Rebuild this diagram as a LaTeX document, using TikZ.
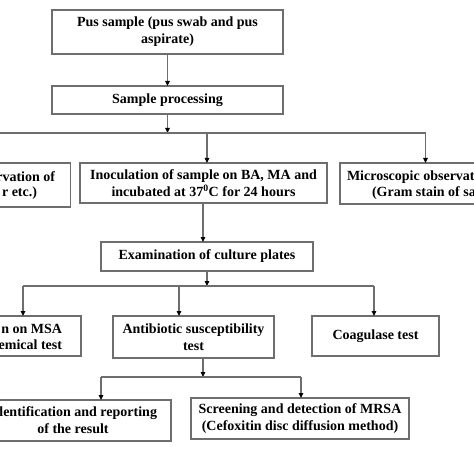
\documentclass[tikz,border=0pt]{standalone}
\usepackage{fontspec}
\setmainfont{Liberation Serif}
\usetikzlibrary{arrows.meta}
\definecolor{linegray}{HTML}{6E6E6E}
\tikzset{
  box/.style={draw=linegray, line width=1.1bp, rectangle, inner sep=0pt, outer sep=0pt,
    align=center, font=\fontsize{14bp}{17bp}\selectfont\bfseries},
  frag/.style={inner sep=0pt, outer sep=0pt, font=\fontsize{14bp}{17bp}\selectfont\bfseries},
  conn/.style={draw=linegray, line width=1.1bp},
  arr/.style={conn, -{Triangle[length=5bp,width=4.5bp,color=black]}}
}
\begin{document}
\begin{tikzpicture}[x=1bp,y=-1bp]
\useasboundingbox (0,0) rectangle (474,474);
\clip (0,0) rectangle (474,474);
\fill[white] (0,0) rectangle (474,474);

% top boxes
\node[box, minimum width=231bp, minimum height=44bp] (pus) at (167.5,32)
  {Pus sample (pus swab and pus\\aspirate)};
\node[box, minimum width=231bp, minimum height=28bp] (proc) at (167.5,100)
  {Sample processing};
\draw[arr] (pus.south) -- (proc.north);

% first branch
\coordinate (b1) at (167.5,133);
\coordinate (hl) at (-20,133);
\coordinate (j1) at (207,133);
\coordinate (hr) at (425.5,133);
\draw[arr] (proc.south) -- (b1);
\draw[conn] (hl) -- (hr);

% second row
\node[box, minimum width=170bp, minimum height=44bp] (macro) at (-14.5,185) {};
\node[frag, anchor=east] (macro1) at (55,177) {rvation of};
\node[frag, anchor=east] (macro2) at (37,193) {r etc.)};

\node[box, minimum width=247bp, minimum height=40bp] (inoc) at (203.5,183)
  {Inoculation of sample on BA, MA and\\incubated at 37\textsuperscript{0}C for 24 hours};

\node[box, minimum width=220bp, minimum height=41bp] (micro) at (450,183.5) {};
\node[frag, anchor=west] (micro1) at (347,177) {Microscopic observat};
\node[frag, anchor=west] (micro2) at (372,193) {(Gram stain of sa};

\draw[arr] (j1) -- (j1 |- inoc.north);
\draw[arr] (hr) -- (hr |- micro.north);

% examination
\coordinate (e0) at (203,203);
\node[box, minimum width=212bp, minimum height=29bp] (exam) at (207,256.5)
  {Examination of culture plates};
\draw[arr] (e0) -- (e0 |- exam.north);

% second branch
\coordinate (b2) at (207,286);
\coordinate (l2) at (23,286);
\coordinate (m2) at (179,286);
\coordinate (r2) at (374,286);
\draw[arr] (exam.south) -- (b2);
\draw[conn] (l2) -- (r2);

\node[box, minimum width=181bp, minimum height=40bp] (msa) at (-9.5,336) {};
\node[frag, anchor=east] (msa1) at (62,329) {n on MSA};
\node[frag, anchor=east] (msa2) at (62,345) {emical test};

\node[box, minimum width=161bp, minimum height=42bp] (ast) at (193.5,337)
  {Antibiotic susceptibility\\test};
\node[box, minimum width=127bp, minimum height=40bp] (coag) at (375.5,336)
  {Coagulase test};

\draw[arr] (l2) -- (l2 |- msa.north);
\draw[arr] (m2) -- (m2 |- ast.north);
\draw[arr] (r2) -- (r2 |- coag.north);

% third branch
\coordinate (a0) at (203,358);
\coordinate (b3) at (203,377);
\coordinate (l3) at (101,377);
\coordinate (r3) at (301,377);
\draw[arr] (a0) -- (b3);
\draw[conn] (l3) -- (r3);

\node[box, minimum width=201bp, minimum height=41bp] (ident) at (70.5,420.5) {};
\node[frag, anchor=east] (ident1) at (157,413) {dentification and reporting};
\node[frag] (ident2) at (73,429) {of the result};

\node[box, minimum width=218bp, minimum height=41bp] (mrsa) at (300,418.5)
  {Screening and detection of MRSA\\(Cefoxitin disc diffusion method)};

\draw[arr] (l3) -- (l3 |- ident.north);
\draw[arr] (r3) -- (r3 |- mrsa.north);
\end{tikzpicture}
\end{document}
